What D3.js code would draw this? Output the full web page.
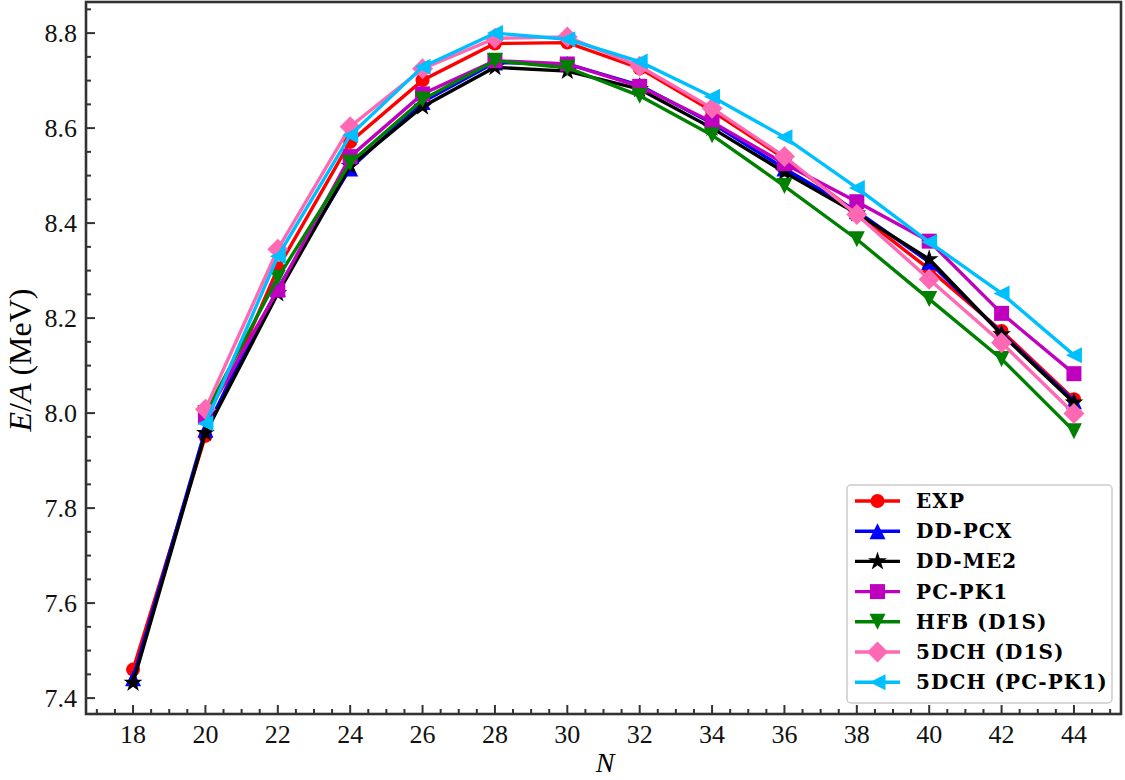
<!DOCTYPE html>
<html>
<head>
<meta charset="utf-8">
<script src="https://cdn.jsdelivr.net/npm/d3@7"></script>
<style>
  body { margin: 0; background: #fff; }
  text { font-family: "Liberation Serif", "DejaVu Serif", serif; }
</style>
</head>
<body>
<div id="chart"></div>
<script>
// neutron number
var nValues = [18, 20, 22, 24, 26, 28, 30, 32, 34, 36, 38, 40, 42, 44];

// binding energy per nucleon (MeV), null = no point
var expVals   = [7.460, 7.952, 8.305, 8.571, 8.701, 8.778, 8.780, 8.726, 8.636, 8.536, 8.421, 8.303, 8.173, 8.029];
var ddpcxVals = [7.442, 7.965, 8.262, 8.515, 8.655, 8.738, 8.735, 8.690, 8.610, 8.515, 8.425, 8.318, 8.168, 8.025];
var ddme2Vals = [7.432, 7.958, 8.252, 8.520, 8.645, 8.728, 8.720, 8.682, 8.600, 8.507, 8.420, 8.324, 8.166, 8.022];
var pcpk1Vals = [null, 7.992, 8.259, 8.540, 8.672, 8.742, 8.735, 8.688, 8.613, 8.525, 8.445, 8.362, 8.210, 8.083];
var hfbVals   = [null, 8.000, 8.285, 8.527, 8.660, 8.742, 8.727, 8.668, 8.585, 8.478, 8.366, 8.240, 8.114, 7.962];
var dch1Vals  = [null, 8.008, 8.345, 8.603, 8.725, 8.789, 8.792, 8.730, 8.642, 8.540, 8.418, 8.282, 8.148, 7.999];
var dch2Vals  = [null, 7.978, 8.330, 8.585, 8.729, 8.800, 8.787, 8.740, 8.666, 8.581, 8.474, 8.360, 8.252, 8.122];

var seriesNames = ["EXP", "DD-PCX", "DD-ME2", "PC-PK1", "HFB (D1S)", "5DCH (D1S)", "5DCH (PC-PK1)"];
var xTicks = [18, 20, 22, 24, 26, 28, 30, 32, 34, 36, 38, 40, 42, 44];
var yTicks = [7.4, 7.6, 7.8, 8.0, 8.2, 8.4, 8.6, 8.8];

var series = [
  {name: seriesNames[0], values: expVals,   color: "#ff0000", marker: "circle"},
  {name: seriesNames[1], values: ddpcxVals, color: "#0000ff", marker: "triUp"},
  {name: seriesNames[2], values: ddme2Vals, color: "#000000", marker: "star"},
  {name: seriesNames[3], values: pcpk1Vals, color: "#bf00bf", marker: "square"},
  {name: seriesNames[4], values: hfbVals,   color: "#008000", marker: "triDown"},
  {name: seriesNames[5], values: dch1Vals,  color: "#ff69b4", marker: "diamond"},
  {name: seriesNames[6], values: dch2Vals,  color: "#00bfff", marker: "triLeft"}
];

var W = 1125, H = 780;
var margin = {top: 2, right: 4, bottom: 66, left: 86},
    width = W - margin.left - margin.right,
    height = H - margin.top - margin.bottom;

var svg = d3.select("#chart").append("svg")
    .attr("width", W)
    .attr("height", H);
var g = svg.append("g")
    .attr("transform", "translate(" + margin.left + "," + margin.top + ")");

var x = d3.scaleLinear().domain([16.7, 45.3]).range([0, width]);
var y = d3.scaleLinear().domain([7.3665, 8.8655]).range([height, 0]);

// marker paths
function markerPath(type) {
  switch (type) {
    case "circle": return d3.symbol(d3.symbolCircle, Math.PI * 7 * 7)();
    case "triUp": return "M0,-8L8,8L-8,8Z";
    case "triDown": return "M0,8L8,-8L-8,-8Z";
    case "triLeft": return "M-8,0L8,-8L8,8Z";
    case "square": return "M-7.5,-7.5H7.5V7.5H-7.5Z";
    case "diamond": return "M0,-10.5L10.5,0L0,10.5L-10.5,0Z";
    case "star": return d3.symbol(d3.symbolStar, 110)();
  }
}

// ticks (inward)
var ax = g.append("g").attr("stroke", "#333").attr("stroke-width", 2);
var xMinor = d3.range(17, 45.01, 0.5);
var yMinor = d3.range(7.4, 8.851, 0.05);
ax.selectAll(".xmin").data(xMinor).enter().append("line")
    .attr("x1", function (d) { return x(d); }).attr("x2", function (d) { return x(d); })
    .attr("y1", height).attr("y2", function (d) { return xTicks.indexOf(Math.round(d * 10) / 10) >= 0 ? height - 9 : height - 5; });
ax.selectAll(".ymin").data(yMinor).enter().append("line")
    .attr("y1", function (d) { return y(d); }).attr("y2", function (d) { return y(d); })
    .attr("x1", 0).attr("x2", function (d) {
      var r = Math.round(d * 100) / 100;
      return Math.abs(r * 5 - Math.round(r * 5)) < 1e-6 ? 9 : 5;
    });

// tick labels
g.selectAll(".xl").data(xTicks).enter().append("text")
    .attr("x", function (d) { return x(d); })
    .attr("y", height + 29)
    .attr("text-anchor", "middle")
    .style("font-size", "26px")
    .attr("fill", "#111")
    .text(function (d) { return d; });
g.selectAll(".yl").data(yTicks).enter().append("text")
    .attr("x", -9)
    .attr("y", function (d) { return y(d) + 9; })
    .attr("text-anchor", "end")
    .style("font-size", "26px")
    .attr("fill", "#111")
    .text(function (d) { return d.toFixed(1); });

// axis titles
svg.append("text")
    .attr("x", 605)
    .attr("y", 772)
    .attr("text-anchor", "middle")
    .style("font-size", "28px")
    .style("font-style", "italic")
    .text("N");
var yl = svg.append("text")
    .attr("transform", "translate(31,360) rotate(-90)")
    .attr("text-anchor", "middle")
    .style("font-size", "32px");
yl.append("tspan").style("font-style", "italic").text("E");
yl.append("tspan").text("/");
yl.append("tspan").style("font-style", "italic").text("A");
yl.append("tspan").text(" (MeV)");

// lines and markers
var line = d3.line()
    .defined(function (d) { return d.v != null; })
    .x(function (d) { return x(d.n); })
    .y(function (d) { return y(d.v); });

series.forEach(function (s) {
  var pts = nValues.map(function (n, i) { return {n: n, v: s.values[i]}; });
  g.append("path")
      .datum(pts)
      .attr("fill", "none")
      .attr("stroke", s.color)
      .attr("stroke-width", 3.4)
      .attr("d", line);
  g.selectAll(null)
      .data(pts.filter(function (d) { return d.v != null; }))
      .enter().append("path")
      .attr("transform", function (d) { return "translate(" + x(d.n) + "," + y(d.v) + ")"; })
      .attr("d", markerPath(s.marker))
      .attr("fill", s.color);
});

// frame
g.append("rect")
    .attr("width", width).attr("height", height)
    .attr("fill", "none")
    .attr("stroke", "#333")
    .attr("stroke-width", 2.6);

// legend
var lg = svg.append("g").attr("transform", "translate(847,485)");
lg.append("rect")
    .attr("width", 265).attr("height", 218)
    .attr("rx", 4)
    .attr("fill", "#fff")
    .attr("fill-opacity", 0.85)
    .attr("stroke", "#cccccc")
    .attr("stroke-width", 1.5);
series.forEach(function (s, i) {
  var row = lg.append("g").attr("transform", "translate(0," + (16 + i * 30.2) + ")");
  row.append("line")
      .attr("x1", 8).attr("x2", 53)
      .attr("stroke", s.color).attr("stroke-width", 3.4);
  row.append("path")
      .attr("transform", "translate(30.5,0)")
      .attr("d", markerPath(s.marker))
      .attr("fill", s.color);
  row.append("text")
      .attr("x", 69).attr("y", 7)
      .style("font-size", "20px")
      .style("font-weight", "bold")
      .style("letter-spacing", "1.1px")
      .style("font-family", "'DejaVu Serif', serif")
      .text(s.name);
});
</script>
</body>
</html>
